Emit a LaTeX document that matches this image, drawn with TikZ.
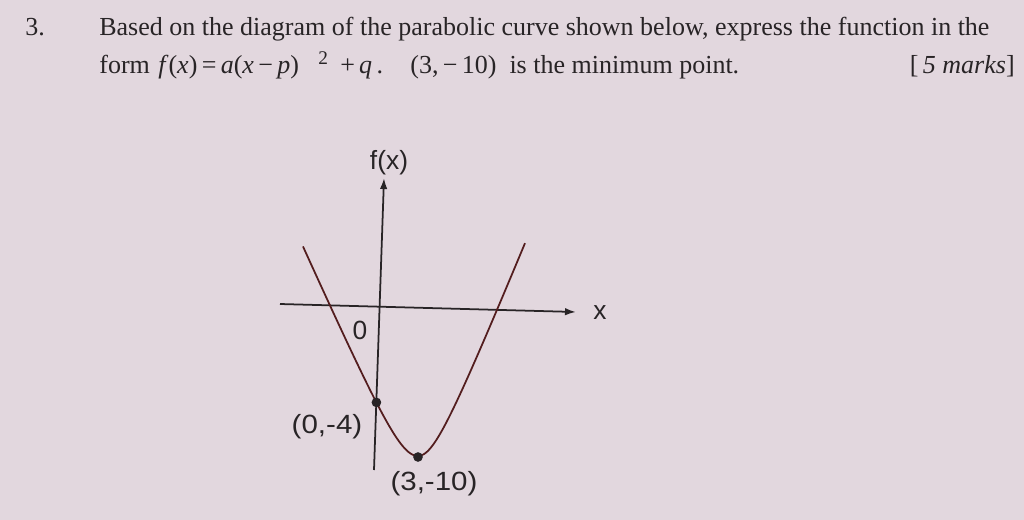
\documentclass[tikz,border=0pt]{standalone}
\usepackage{fontspec}
\setmainfont{Liberation Serif}
\newfontfamily\labelfont{Liberation Sans}
\usepackage{xcolor}
\usetikzlibrary{arrows.meta}
\usetikzlibrary{positioning}
\definecolor{paper}{RGB}{226,215,222}
\definecolor{ink}{RGB}{40,36,38}
\colorlet{curve}{ink!80!red}

\begin{document}
\begin{tikzpicture}[
x=0.02cm,y=-0.02cm,
MyPoints/.style={circle,fill=ink,inner sep=0pt,minimum size=5.5pt},
Axes/.style={draw=ink,line width=1pt},
Curve/.style={draw=curve,line width=1pt},
Question/.style={anchor=base west,inner sep=0pt,text=ink,font=\fontsize{14.8}{16}\selectfont},
Labels/.style={text=ink,font=\labelfont\fontsize{15}{17}\selectfont}
]
\fill[paper] (0,0) rectangle (1024,520);
\useasboundingbox (0,0) rectangle (1024,520);

% question text
\node[Question] (num) at (25,36) {3.};
\node[Question] (line1) at (99,36) {Based on the diagram of the parabolic curve shown below, express the function in the};
\node[Question] (form) at (99,74) {form};
\node[Question] (func) at (158,74) {\textit{f}(\textit{x})\,=\,\textit{a}(\textit{x}\,−\,\textit{p})\hspace{11pt}\raisebox{5.5pt}{\fontsize{11}{12}\selectfont 2}\hspace{7pt}+\,\textit{q}\,.};
\node[Question] (minpt) at (410,74) {(3,\,−\,10)\ \ is the minimum point.};
\node[Question,anchor=base east] (marks) at (1015,74) {[\,\textit{5 marks}]};

% axes (slightly tilted like the print)
\coordinate (Ybot) at (374,470);
\coordinate (Ytop) at (384,178);
\coordinate (Xleft) at (280,304);
\coordinate (Xright) at (576,312);

\draw[Axes,-{Latex[length=2.2mm,width=1.5mm]}] (Ybot)--(Ytop);
\draw[Axes,-{Latex[length=2.2mm,width=1.5mm]}] (Xleft)--(Xright);

\node[Labels] (fx) at (389,163) {f(x)};
\node[Labels] (xlab) at (600,313) {x};
\node[Labels] (zero) at (360,330) {0};

% the curve: rounded bottom, nearly straight arms
\coordinate (D) at (376.4,402.4);
\coordinate (V) at (418,457);
\draw[Curve] plot[domain=-11.5:0,samples=60] ({418+10*\x},{511-10*sqrt(30.25+5.0625*\x*\x)})
  -- plot[domain=0:10.7,samples=60] ({418+10*\x},{511-10*sqrt(30.25+6.0025*\x*\x)});

\node[MyPoints] (P) at (D) {};
\node[MyPoints] (M) at (V) {};
\node[Labels] (Plab) at (327,427) {\scalebox{1.12}[1]{(0,-4)}};
\node[Labels] (Mlab) at (434,484) {\scalebox{1.12}[1]{(3,-10)}};

\end{tikzpicture}
\end{document}
